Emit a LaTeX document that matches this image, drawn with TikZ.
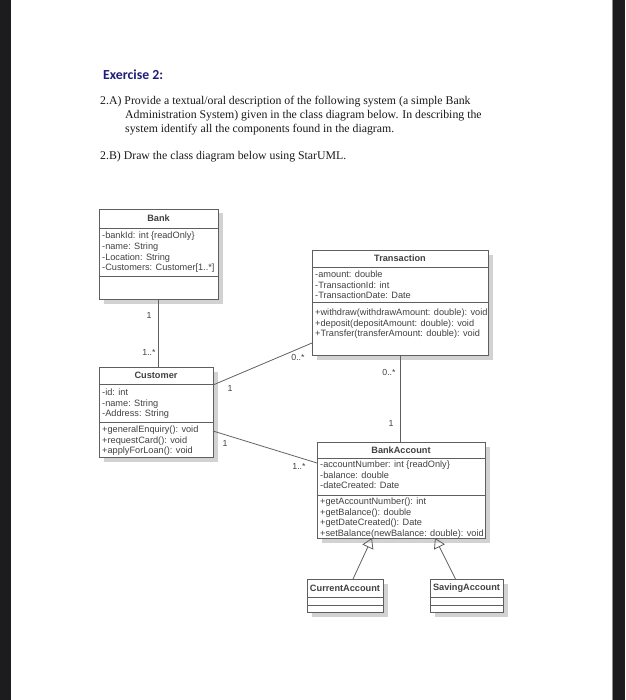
\documentclass[tikz,border=0pt]{standalone}
\usepackage{fontspec}
\setmainfont{Liberation Serif}
\setsansfont{Liberation Sans}
\newfontfamily\headfont{Carlito}
\usetikzlibrary{arrows.meta,shadows}

\definecolor{navyhead}{RGB}{30,30,120}
\definecolor{umlline}{RGB}{95,95,95}
\definecolor{umltext}{RGB}{65,65,65}
\definecolor{umlshade}{RGB}{210,210,210}
\definecolor{screenedge}{RGB}{28,28,30}

\begin{document}
\begin{tikzpicture}[x=1pt,y=-1pt,
	umlclass/.style={draw=umlline,fill=white,line width=0.8pt,inner sep=0pt,outer sep=0pt,anchor=north west,
		drop shadow={shadow xshift=4.5pt,shadow yshift=-4.5pt,fill=umlshade,opacity=1}},
	umlsep/.style={draw=umlline,line width=0.8pt},
	umlname/.style={font=\sffamily\bfseries\fontsize{9.2}{11}\selectfont,text=umltext,inner sep=0pt},
	umlmembers/.style={font=\sffamily\fontsize{9.2}{10.7}\selectfont,text=umltext,align=left,anchor=north west,inner sep=0pt},
	assoc/.style={draw=umlline,line width=0.8pt},
	generalize/.style={draw=umlline,line width=0.8pt,-{Triangle[open,length=10pt,width=12pt]}},
	mult/.style={font=\sffamily\fontsize{8.8}{10}\selectfont,text=umltext,inner sep=0pt}]
	\useasboundingbox (0,0) rectangle (625,700);
	\fill[screenedge] (0,0) rectangle (11,700);
	\fill[screenedge] (613,0) rectangle (625,700);
	\draw[black!45,line width=0.6pt] (612.5,0) -- (612.5,700);

	\node[anchor=west,inner sep=0pt,font=\headfont\bfseries\fontsize{13.8}{16}\selectfont,text=navyhead] (title) at (103,75) {Exercise 2:};
	\node[anchor=north west,inner sep=0pt,align=left,font=\fontsize{11.8}{14}\selectfont,text=black!90] (task) at (100,96)
		{2.A) Provide a textual/oral description of the following system (a simple Bank\\
		\hspace*{25pt}Administration System) given in the class diagram below. In describing the\\
		\hspace*{25pt}system identify all the components found in the diagram.\\[13pt]
		2.B) Draw the class diagram below using StarUML.};

	\node[umlclass,minimum width=119,minimum height=90] (bank) at (99,209) {};
	\draw[umlsep] ([yshift=-19]bank.north west) -- ([yshift=-19]bank.north east);
	\draw[umlsep] ([yshift=-67]bank.north west) -- ([yshift=-67]bank.north east);
	\node[umlname] (bankname) at ([yshift=-9.5]bank.north) {Bank};
	\node[umlmembers] (bankattr) at ([xshift=3,yshift=-23]bank.north west)
		{-bankId: int \{readOnly\}\\-name: String\\-Location: String\\-Customers: Customer[1..*]};

	\node[umlclass,minimum width=176,minimum height=105] (transaction) at (312,250) {};
	\draw[umlsep] ([yshift=-17]transaction.north west) -- ([yshift=-17]transaction.north east);
	\draw[umlsep] ([yshift=-52]transaction.north west) -- ([yshift=-52]transaction.north east);
	\node[umlname] (transname) at ([yshift=-8.5]transaction.north) {Transaction};
	\node[umlmembers] (transattr) at ([xshift=3,yshift=-20.5]transaction.north west)
		{-amount: double\\-TransactionId: int\\-TransactionDate: Date};
	\node[umlmembers] (transops) at ([xshift=3,yshift=-58.5]transaction.north west)
		{+withdraw(withdrawAmount: double): void\\+deposit(depositAmount: double): void\\+Transfer(transferAmount: double): void};

	\node[umlclass,minimum width=114,minimum height=90] (customer) at (99,367) {};
	\draw[umlsep] ([yshift=-17]customer.north west) -- ([yshift=-17]customer.north east);
	\draw[umlsep] ([yshift=-55]customer.north west) -- ([yshift=-55]customer.north east);
	\node[umlname] (custname) at ([yshift=-8.5]customer.north) {Customer};
	\node[umlmembers] (custattr) at ([xshift=3,yshift=-21.5]customer.north west)
		{-id: int\\-name: String\\-Address: String};
	\node[umlmembers] (custops) at ([xshift=3,yshift=-58.5]customer.north west)
		{+generalEnquiry(): void\\+requestCard(): void\\+applyForLoan(): void};

	\node[umlclass,minimum width=168,minimum height=96] (account) at (317,442) {};
	\draw[umlsep] ([yshift=-16]account.north west) -- ([yshift=-16]account.north east);
	\draw[umlsep] ([yshift=-53]account.north west) -- ([yshift=-53]account.north east);
	\node[umlname] (acctname) at ([yshift=-8]account.north) {BankAccount};
	\node[umlmembers] (acctattr) at ([xshift=3,yshift=-18.5]account.north west)
		{-accountNumber: int \{readOnly\}\\-balance: double\\-dateCreated: Date};
	\node[umlmembers] (acctops) at ([xshift=3,yshift=-55.5]account.north west)
		{+getAccountNumber(): int\\+getBalance(): double\\+getDateCreated(): Date\\+setBalance(newBalance: double): void};

	\node[umlclass,minimum width=76,minimum height=33] (current) at (307,579) {};
	\draw[umlsep] ([yshift=-18]current.north west) -- ([yshift=-18]current.north east);
	\draw[umlsep] ([yshift=-26]current.north west) -- ([yshift=-26]current.north east);
	\node[umlname] (curname) at ([yshift=-9]current.north) {CurrentAccount};

	\node[umlclass,minimum width=73,minimum height=33] (saving) at (430,579) {};
	\draw[umlsep] ([yshift=-18]saving.north west) -- ([yshift=-18]saving.north east);
	\draw[umlsep] ([yshift=-26]saving.north west) -- ([yshift=-26]saving.north east);
	\node[umlname] (savname) at ([yshift=-9]saving.north) {SavingAccount};

	\draw[assoc] (bank.south) -- (bank.south |- customer.north);
	\draw[assoc] ([yshift=-18]customer.north east) -- ([yshift=12]transaction.south west);
	\draw[assoc] ([yshift=-64]customer.north east) -- ([yshift=-21]account.north west);
	\draw[assoc] (transaction.south) -- (transaction.south |- account.north);
	\draw[generalize] ([xshift=8]current.north) -- ([xshift=-29]account.south);
	\draw[generalize] ([xshift=-11]saving.north) -- ([xshift=34]account.south);

	\node[mult] (m1) at (149,315) {1};
	\node[mult] (m2) at (149,352) {1..*};
	\node[mult] (m3) at (230,388) {1};
	\node[mult] (m4) at (298,357) {0..*};
	\node[mult] (m5) at (225,443) {1};
	\node[mult] (m6) at (299,466) {1..*};
	\node[mult] (m7) at (389,372) {0..*};
	\node[mult] (m8) at (391,423) {1};
\end{tikzpicture}
\end{document}
